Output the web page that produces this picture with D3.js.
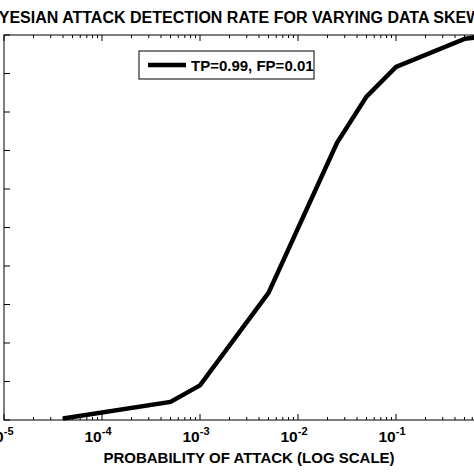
<!DOCTYPE html>
<html><head><meta charset="utf-8">
<script src="https://cdn.jsdelivr.net/npm/d3@7"></script>
<style>body{margin:0;background:#fff}text{font-family:"Liberation Sans",Arial,sans-serif;font-weight:bold}</style>
</head><body><svg id="c" width="474" height="474"></svg>
<script>
const probAttack = [4e-5, 5e-4, 1e-3, 5e-3, 2.5e-2, 5e-2, 0.1, 0.5, 1];
const detectRate = [0.004, 0.047, 0.09, 0.33, 0.72, 0.84, 0.917, 0.99, 1];
const xTicks = [-5, -4, -3, -2, -1, 0];
const legendLabel = 'TP=0.99, FP=0.01';

const svg = d3.select('#c');
const m = {l: 4, t: 35, r: 494, b: 420};
const x = d3.scaleLog().domain([1e-5, 1]).range([m.l, m.r]);
const y = d3.scaleLinear().domain([0, 1]).range([m.b, m.t]);

// frame
svg.append('rect').attr('x', m.l).attr('y', m.t).attr('width', m.r - m.l).attr('height', m.b - m.t)
  .attr('fill', 'none').attr('stroke', '#000').attr('stroke-width', 1);

// x ticks (major + minor), inward on both edges
const g = svg.append('g').attr('stroke', '#000').attr('stroke-width', 1);
xTicks.forEach(e => {
  for (let k = 1; k < 10; k++) {
    const v = k * Math.pow(10, e);
    if (v > 1) break;
    const px = x(v), len = k === 1 ? 6 : 3;
    g.append('line').attr('x1', px).attr('x2', px).attr('y1', m.b).attr('y2', m.b - len);
    g.append('line').attr('x1', px).attr('x2', px).attr('y1', m.t).attr('y2', m.t + len);
  }
});
d3.range(0, 1.01, 0.1).forEach(v => {
  g.append('line').attr('x1', m.l).attr('x2', m.l + 6).attr('y1', y(v)).attr('y2', y(v));
});

xTicks.forEach(e => {
  const t = svg.append('text').attr('x', x(Math.pow(10, e)) - 4).attr('y', 442)
    .attr('text-anchor', 'middle').attr('font-size', 15.5);
  t.append('tspan').text('10');
  t.append('tspan').attr('dy', -7).attr('font-size', 11).text(e);
});

svg.append('path')
  .datum(probAttack.map((p, i) => [p, detectRate[i]]))
  .attr('fill', 'none').attr('stroke', '#000').attr('stroke-width', 4.5)
  .attr('d', d3.line().x(d => x(d[0])).y(d => y(d[1])));

svg.append('text').attr('x', 251).attr('y', 23).attr('text-anchor', 'middle').attr('font-size', 16)
  .text('BAYESIAN ATTACK DETECTION RATE FOR VARYING DATA SKEWNESS');
svg.append('text').attr('x', 249).attr('y', 463).attr('text-anchor', 'middle').attr('font-size', 15)
  .text('PROBABILITY OF ATTACK (LOG SCALE)');

// legend
svg.append('rect').attr('x', 139).attr('y', 51).attr('width', 175).attr('height', 28)
  .attr('fill', '#fff').attr('stroke', '#000');
svg.append('line').attr('x1', 148).attr('x2', 186).attr('y1', 65).attr('y2', 65)
  .attr('stroke', '#000').attr('stroke-width', 4.5);
svg.append('text').attr('x', 191).attr('y', 70.5).attr('font-size', 15).text(legendLabel);
</script></body></html>
